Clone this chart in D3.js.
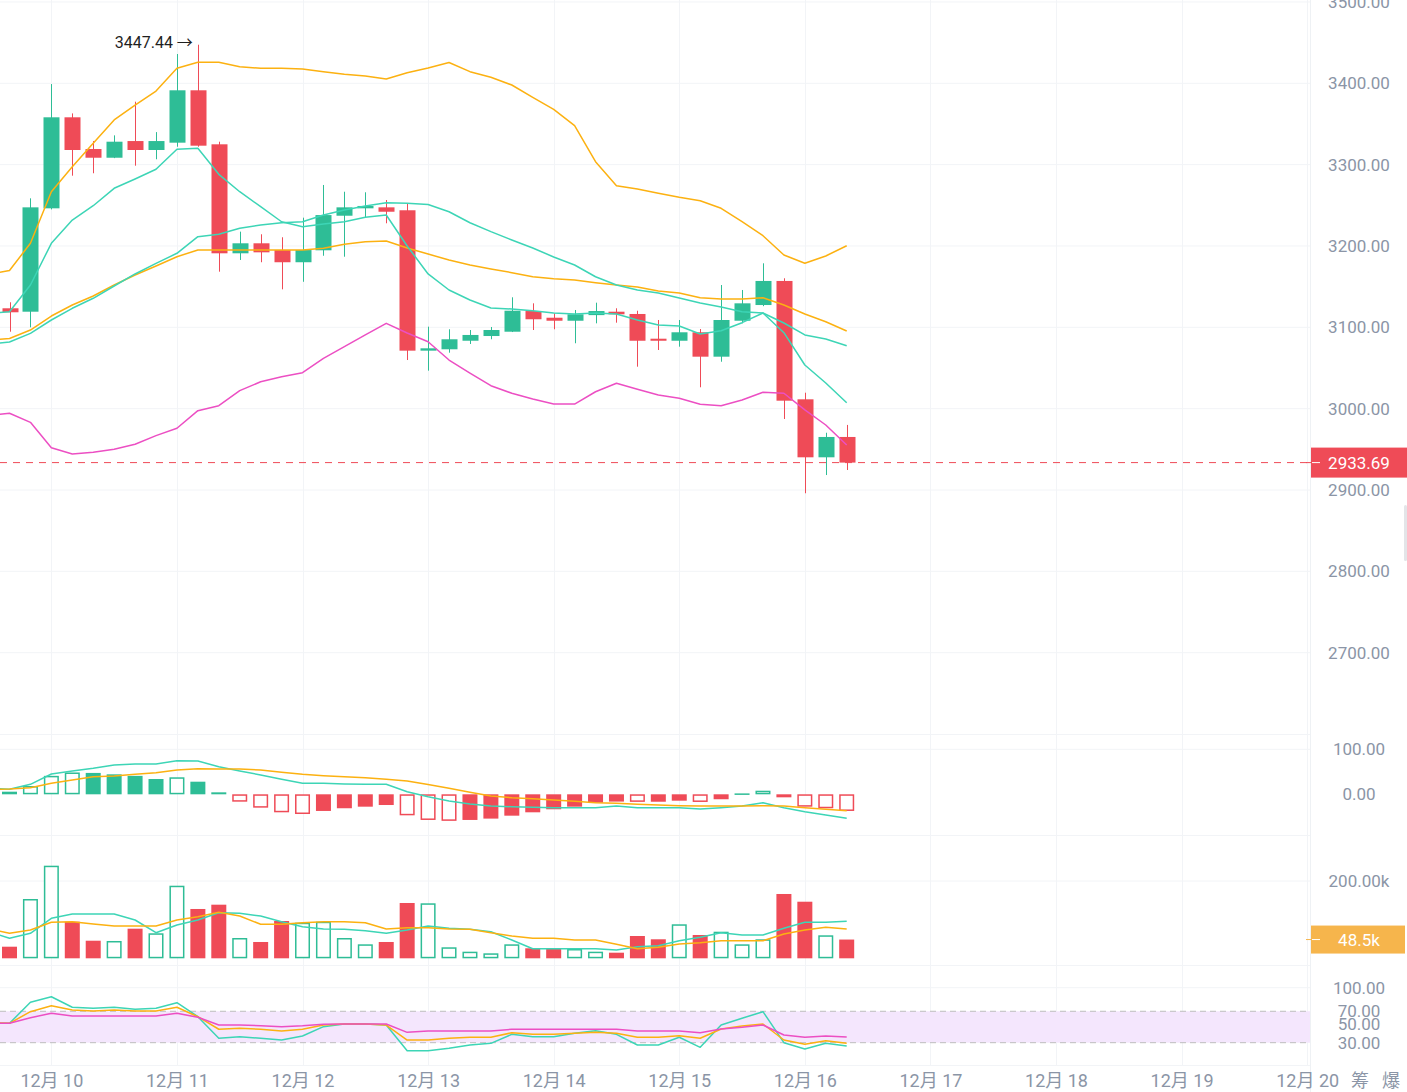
<!DOCTYPE html>
<html>
<head>
<meta charset="utf-8">
<script src="https://cdn.jsdelivr.net/npm/d3@7"></script>
<style>
  body { margin: 0; background: #fff; }
</style>
</head>
<body>
<div id="chart"></div>
<script>
// 4h candles, first visible one opens 12月9 16:00
var startTime = new Date(2024, 11, 9, 16);

var openPrice  = [3123.4, 3119.2, 3246.3, 3358.2, 3319.2, 3308.5, 3329, 3318, 3327, 3391.4, 3325, 3191, 3203.3, 3195, 3180, 3194.7, 3237.2, 3246.3, 3247.5, 3243.9, 3071.3, 3073, 3083.5, 3089.3, 3094.6, 3120, 3111.8, 3108.1, 3115, 3119.2, 3116.4, 3086, 3083.5, 3093.9, 3063.9, 3108.1, 3127.4, 3157, 3011.5, 2940.2, 2965.2];
var highPrice  = [3130.8, 3258.6, 3399.1, 3363, 3329, 3336, 3377.4, 3340, 3436, 3447.44, 3328.2, 3217.6, 3214.4, 3210.7, 3234.8, 3275, 3266.7, 3266, 3256.5, 3252.5, 3100.8, 3097.6, 3096.7, 3100.4, 3136.9, 3129.5, 3117.2, 3121.3, 3130.3, 3123.4, 3120.4, 3109, 3109, 3097.9, 3152, 3145.9, 3178.7, 3160.3, 3019.6, 2970.4, 2980];
var lowPrice   = [3094.6, 3100, 3245, 3286.4, 3289.4, 3308, 3298.7, 3306.6, 3322, 3322, 3168.4, 3182.8, 3180, 3146.7, 3156, 3188, 3186.8, 3235.3, 3227.9, 3059.8, 3046.7, 3068.8, 3079.5, 3085.3, 3094.2, 3096.7, 3097.6, 3080.4, 3104.9, 3105.7, 3051.6, 3072.1, 3076.2, 3026.3, 3057.7, 3104.9, 3126, 2987.3, 2896, 2918.4, 2924.6];
var closePrice = [3118.5, 3247.5, 3358.2, 3318, 3308.5, 3328.2, 3318, 3329, 3391.4, 3323.3, 3191, 3203.3, 3192.2, 3180, 3195, 3238, 3247.5, 3249.2, 3242.1, 3071.3, 3074.2, 3085.3, 3090.6, 3096.7, 3120.4, 3109.9, 3108.1, 3116, 3120, 3116, 3083.5, 3083.5, 3093.9, 3063.9, 3109, 3129.5, 3157, 3009.8, 2940.2, 2965.2, 2933.69];
var volumeK    = [30, 153.4, 239.6, 94.7, 45.5, 44.8, 76.6, 64.7, 187.8, 127.6, 138.7, 52.5, 42.2, 96.5, 92.1, 94.7, 52.5, 36.2, 42.2, 143.1, 142.3, 28.5, 17.1, 12.9, 36.2, 25.9, 25.9, 24.1, 17.1, 14.5, 57.7, 49.2, 88, 60.3, 68.8, 36.2, 49.2, 166.4, 146.4, 59.5, 48.5];
var macdHist   = [5.8, 18.4, 41, 48.5, 47.5, 44.4, 41, 34, 37.8, 28, 4.4, -16.4, -29.7, -40, -43.8, -37, -31, -27.5, -23.8, -46.7, -57, -59, -57, -54, -47.5, -40, -33.3, -27.5, -18.7, -16.2, -16.8, -16.5, -14.2, -17, -11, 2, 8, -6.7, -27.5, -31, -37];

// indicator lines: the first value belongs to the candle just left of the view
var bollUpper = [3164.9, 3169.9, 3203.3, 3266.7, 3297.5, 3326.2, 3354.9, 3373.3, 3390.5, 3418.4, 3425.8, 3425.8, 3420.4, 3418.4, 3418.4, 3417.6, 3414.3, 3411.1, 3409, 3405.3, 3413, 3418.8, 3425.6, 3414.3, 3407.4, 3397.9, 3382.8, 3368, 3347.9, 3303.6, 3274.1, 3270, 3264.8, 3259.8, 3255.7, 3246.3, 3229.8, 3212.6, 3188.9, 3178.7, 3187.7, 3200.3];
var bollMid   = [3079.5, 3082, 3092.6, 3109, 3123.4, 3135.7, 3150.8, 3165.6, 3178.7, 3191, 3211.4, 3214.4, 3221.7, 3225.8, 3228.6, 3229.8, 3238.1, 3244.2, 3249.2, 3253.2, 3252.5, 3251, 3242.1, 3228.6, 3217.6, 3207.4, 3197.5, 3186.5, 3176.6, 3162.2, 3152, 3145.9, 3142.2, 3136, 3129.9, 3125, 3119.2, 3117.6, 3105.3, 3090.6, 3085.6, 3077.4];
var bollLower = [2991.6, 2994.3, 2983.2, 2952, 2944.3, 2946.4, 2950, 2956.2, 2966.8, 2975.9, 2997.5, 3003.6, 3022.1, 3033.1, 3039.3, 3044.2, 3061.9, 3076.2, 3090.6, 3104.9, 3093, 3082.3, 3059.8, 3043.8, 3028.2, 3018.9, 3011.9, 3005.7, 3005.7, 3020.8, 3031.2, 3023.8, 3016.8, 3012.7, 3005.4, 3003.6, 3010.6, 3020.1, 3018.9, 2998.4, 2979.9, 2955.3];
var maFast    = [3117, 3119.2, 3152, 3203.3, 3231.9, 3249.5, 3270.9, 3282.3, 3294.3, 3318.9, 3320.1, 3288.1, 3266.7, 3248.3, 3229.8, 3223.7, 3227, 3229.8, 3235.3, 3238.1, 3200, 3165.6, 3145.9, 3133.6, 3123.8, 3122.5, 3120.4, 3117.6, 3116.4, 3117.6, 3116.4, 3109, 3102.8, 3101.6, 3091.8, 3095.8, 3105.7, 3117.6, 3093.4, 3053.7, 3031.5, 3007.3];
var maSlow    = [3084.4, 3086.3, 3096.7, 3113.9, 3127.4, 3138.5, 3152, 3164.3, 3175.4, 3186.8, 3195.1, 3195.1, 3195.1, 3195.1, 3195.1, 3195.1, 3197.1, 3202.1, 3205.3, 3206.1, 3197.5, 3190.1, 3182.8, 3176.6, 3171.7, 3167.2, 3162.2, 3159.8, 3158.2, 3154.9, 3152, 3149.6, 3144.6, 3142.2, 3136.4, 3134.8, 3134.8, 3136.4, 3127.4, 3116.4, 3106.9, 3095.5];
var macdDif   = [14.4, 11.1, 22.2, 45.1, 51.8, 57.8, 65.1, 67.3, 67.3, 74.7, 74, 61.3, 51.8, 42.9, 33.3, 24.4, 24.4, 22.9, 22.2, 22.2, 5.8, -5.3, -14.9, -21.6, -26, -27.6, -28.9, -29.8, -29.8, -29.8, -26, -29.8, -29.8, -29.8, -32.7, -29.8, -26, -18.7, -29.8, -38.7, -46, -53.3];
var macdDea   = [11.1, 11.8, 14.7, 24.4, 31.8, 39.1, 40.7, 44.4, 48, 54, 56.9, 56.2, 56.2, 54, 48.9, 44.4, 41.3, 39.1, 36.9, 33.3, 29.6, 21.8, 13.3, 4.4, -3.8, -7.6, -9.8, -12.7, -15.6, -18.7, -20, -22.2, -23.8, -25.3, -26, -26, -26, -25.3, -26, -29.8, -33.3, -36.4];
var volMa5    = [69.3, 51.7, 64.7, 103.5, 114.6, 114.6, 114.6, 99.1, 66.2, 86.2, 99.1, 118, 116.4, 109.4, 94.7, 81.8, 75.8, 75, 71.4, 64.7, 73.2, 83.6, 77.6, 75, 68.8, 47.3, 24.8, 24.8, 24.8, 24.8, 21.5, 30, 32.6, 45.5, 54.3, 66.2, 60.3, 60.3, 77.6, 93.1, 93.1, 95.7];
var volMa10   = [75.8, 64.7, 73.2, 93.1, 94.7, 88.7, 83.6, 83.6, 83.6, 99.1, 107.6, 119, 109.4, 88, 88, 92.1, 94.7, 94.7, 92.1, 75.8, 79.2, 79.2, 75.8, 75, 66.2, 57.7, 51.7, 51.7, 47.3, 47.3, 36.2, 24.8, 28.5, 37, 40.4, 45.5, 45.5, 45.5, 62.9, 73.2, 80.2, 75.8];
var rsi6      = [54.7, 54.7, 81.4, 88.5, 75.1, 73.8, 75.1, 72.5, 73.8, 80.9, 63.1, 35.6, 37.6, 35.6, 33.4, 38.5, 50.4, 53.8, 53.8, 52.5, 19.8, 19.8, 22.9, 27.1, 29.2, 40.7, 37.6, 37.6, 42, 45.3, 40.7, 27.1, 27.1, 36.9, 24.1, 52.5, 61.1, 69.5, 30, 22, 29.2, 25.8];
var rsi12     = [55.5, 54.7, 69.5, 77.1, 71.6, 70.3, 71.6, 70.3, 70.3, 75.1, 63.1, 47.1, 48.3, 47.1, 44.9, 47.1, 52.5, 53.8, 53.8, 52.5, 33.4, 33.4, 35.6, 36.9, 36.9, 42.7, 40.7, 40.7, 42, 43.2, 42, 36.9, 36.9, 38.9, 35.6, 47.4, 51.3, 53.8, 33.4, 28, 32.5, 29.2];
var rsi24     = [54.7, 54.7, 61.8, 67.4, 64, 64, 64, 64, 64, 67.4, 62.3, 52.5, 52.5, 51.6, 50.4, 51.6, 53.4, 53.8, 53.8, 53.8, 43.2, 44.9, 44.9, 44.9, 44.9, 47.1, 47.1, 47.1, 47.1, 47.1, 47.1, 44.9, 44.9, 44.9, 42.7, 47.4, 49.6, 52.5, 39.8, 36.9, 38.5, 37.3];

// tick labels
var priceTicks = [3500, 3400, 3300, 3200, 3100, 3000, 2900, 2800, 2700];
var macdTicks = [100, 0];
var volTicks = [200];
var rsiTicks = [100, 70, 50, 30];
var rsiBand = [30, 70];
var lastPrice = 2933.69;
var lastVolume = 48.5;
var highLabel = "3447.44";
var cornerLabels = ["筹", "爆"];

var width = 1407, height = 1092, plotRight = 1310;
var upColor = "#2ebd96", downColor = "#ef4b57";
var tealColor = "#3dd5b6", orangeColor = "#fcb111", pinkColor = "#ec4fc3";
var gridColor = "#f2f4f7", labelColor = "#8b95a6";
var fontFamily = "Roboto, 'Noto Sans CJK SC', sans-serif";

var svg = d3.select("#chart").append("svg")
    .attr("width", width)
    .attr("height", height)
    .style("display", "block");

svg.append("rect").attr("width", width).attr("height", height).attr("fill", "#fff");

// scales
var candleTime = function(i) { return d3.timeHour.offset(startTime, 4 * i); };
var lineTime = function(i) { return d3.timeHour.offset(startTime, 4 * (i - 1)); };

var x = d3.scaleTime()
    .domain([startTime, candleTime(40)])
    .range([9.5, 846.7]);
var yPrice = d3.scaleLinear().domain([2900, 3400]).range([490, 83.3]);
var yMacd = d3.scaleLinear().domain([0, 100]).range([794.3, 749.3]);
var yVol = d3.scaleLinear().domain([0, 200]).range([958.3, 881]);
var yRsi = d3.scaleLinear().domain([30, 100]).range([1042.7, 987.7]);

var dayTicks = d3.timeDay.range(new Date(2024, 11, 10), new Date(2024, 11, 21));

// grid lines
var grid = svg.append("g").attr("stroke", gridColor).attr("stroke-width", 1);
grid.selectAll(".vgrid").data(dayTicks).join("line")
    .attr("x1", function(d) { return Math.round(x(d)) + 0.5; })
    .attr("x2", function(d) { return Math.round(x(d)) + 0.5; })
    .attr("y1", 0).attr("y2", 1065);

var hLines = priceTicks.map(yPrice)
    .concat([734.5, yMacd(100), 835.5, yVol(200), 965.5, yRsi(100), 1065.5]);
grid.selectAll(".hgrid").data(hLines).join("line")
    .attr("x1", 0).attr("x2", plotRight)
    .attr("y1", function(d) { return d; })
    .attr("y2", function(d) { return d; });

svg.append("line")
    .attr("x1", plotRight + 0.5).attr("x2", plotRight + 0.5)
    .attr("y1", 0).attr("y2", height)
    .attr("stroke", "#eef1f4");

// RSI band
svg.append("rect")
    .attr("x", 0).attr("width", plotRight)
    .attr("y", yRsi(rsiBand[1]))
    .attr("height", yRsi(rsiBand[0]) - yRsi(rsiBand[1]))
    .attr("fill", "#f4e6fd");
svg.selectAll(".rsiBand").data(rsiBand).join("line")
    .attr("x1", 0).attr("x2", plotRight)
    .attr("y1", function(d) { return yRsi(d); })
    .attr("y2", function(d) { return yRsi(d); })
    .attr("stroke", "#bdbdbd")
    .attr("stroke-dasharray", "6,4");

// candles
var candles = svg.append("g");
openPrice.forEach(function(o, i) {
    var c = closePrice[i];
    var col = c >= o ? upColor : downColor;
    var cx = Math.round(x(candleTime(i))) + 0.5;
    candles.append("line")
        .attr("x1", cx).attr("x2", cx)
        .attr("y1", yPrice(highPrice[i]))
        .attr("y2", yPrice(lowPrice[i]))
        .attr("stroke", col);
    var top = yPrice(Math.max(o, c));
    var h = Math.max(1, yPrice(Math.min(o, c)) - top);
    candles.append("rect")
        .attr("x", cx - 8).attr("width", 16)
        .attr("y", top).attr("height", h)
        .attr("fill", col);
});

function drawLine(values, yScale, color) {
    var line = d3.line()
        .x(function(d, i) { return x(lineTime(i)); })
        .y(function(d) { return yScale(d); });
    svg.append("path")
        .datum(values)
        .attr("d", line)
        .attr("fill", "none")
        .attr("stroke", color)
        .attr("stroke-width", 1.5)
        .attr("stroke-linejoin", "round");
}

drawLine(bollUpper, yPrice, orangeColor);
drawLine(maSlow, yPrice, orangeColor);
drawLine(bollMid, yPrice, tealColor);
drawLine(maFast, yPrice, tealColor);
drawLine(bollLower, yPrice, pinkColor);

// high marker
svg.append("text")
    .attr("x", x(candleTime(9)) - 5)
    .attr("y", yPrice(highPrice[9]) - 2)
    .attr("dy", "0.35em")
    .attr("text-anchor", "end")
    .attr("font-family", fontFamily)
    .attr("font-size", 16)
    .attr("fill", "#1f1f1f")
    .text(highLabel + " \u2192");

// last price line
svg.append("line")
    .attr("x1", 0).attr("x2", plotRight)
    .attr("y1", yPrice(lastPrice)).attr("y2", yPrice(lastPrice))
    .attr("stroke", downColor)
    .attr("stroke-dasharray", "7,6");

// MACD histogram + lines
var macdBars = svg.append("g");
macdHist.forEach(function(v, i) {
    var col = v >= 0 ? upColor : downColor;
    var hollow = i > 0 && Math.abs(v) > Math.abs(macdHist[i - 1]);
    var cx = x(candleTime(i));
    var y0 = yMacd(0), y1 = yMacd(v);
    var top = Math.min(y0, y1), h = Math.max(1.5, Math.abs(y1 - y0));
    if (hollow) {
        macdBars.append("rect")
            .attr("x", cx - 6.75).attr("width", 13.5)
            .attr("y", top + 0.75).attr("height", Math.max(0.5, h - 1.5))
            .attr("fill", "#fff").attr("stroke", col).attr("stroke-width", 1.5);
    } else {
        macdBars.append("rect")
            .attr("x", cx - 7.5).attr("width", 15)
            .attr("y", top).attr("height", h)
            .attr("fill", col);
    }
});
drawLine(macdDif, yMacd, tealColor);
drawLine(macdDea, yMacd, orangeColor);

// volume
var volBars = svg.append("g");
volumeK.forEach(function(v, i) {
    var up = closePrice[i] >= openPrice[i];
    var cx = x(candleTime(i));
    var top = yVol(v), h = yVol(0) - top;
    if (up) {
        volBars.append("rect")
            .attr("x", cx - 6.75).attr("width", 13.5)
            .attr("y", top + 0.75).attr("height", h - 1.5)
            .attr("fill", "#fff").attr("stroke", upColor).attr("stroke-width", 1.5);
    } else {
        volBars.append("rect")
            .attr("x", cx - 7.5).attr("width", 15)
            .attr("y", top).attr("height", h)
            .attr("fill", downColor);
    }
});
drawLine(volMa5, yVol, tealColor);
drawLine(volMa10, yVol, orangeColor);

// RSI
drawLine(rsi6, yRsi, tealColor);
drawLine(rsi12, yRsi, orangeColor);
drawLine(rsi24, yRsi, pinkColor);

// right axes
function drawAxis(scale, ticks, fmt) {
    var g = svg.append("g")
        .attr("transform", "translate(1359,0)")
        .call(d3.axisRight(scale).tickValues(ticks).tickSize(0).tickPadding(0).tickFormat(fmt));
    g.select(".domain").remove();
    g.attr("font-family", fontFamily).attr("font-size", 17);
    g.selectAll("text")
        .attr("x", 0)
        .attr("text-anchor", "middle")
        .attr("fill", labelColor);
    return g;
}
drawAxis(yPrice, priceTicks, d3.format(".2f"));
drawAxis(yMacd, macdTicks, d3.format(".2f"));
drawAxis(yVol, volTicks, function(d) { return d3.format(".2f")(d) + "k"; });
var rsiAxis = drawAxis(yRsi, rsiTicks, d3.format(".2f"));
rsiAxis.selectAll(".tick").filter(function(d) { return d === 50; })
    .attr("transform", "translate(0," + (yRsi(50) - 2) + ")");

// value tags
function drawTag(yPos, h, w, color, label) {
    svg.append("rect")
        .attr("x", plotRight + 1).attr("y", yPos - h / 2)
        .attr("width", w).attr("height", h)
        .attr("fill", color);
    svg.append("line")
        .attr("x1", plotRight - 4).attr("x2", plotRight + 1)
        .attr("y1", yPos).attr("y2", yPos)
        .attr("stroke", color);
    svg.append("line")
        .attr("x1", plotRight + 2).attr("x2", plotRight + 10)
        .attr("y1", yPos).attr("y2", yPos)
        .attr("stroke", "#fff");
    svg.append("text")
        .attr("x", 1359).attr("y", yPos)
        .attr("dy", "0.35em")
        .attr("text-anchor", "middle")
        .attr("font-family", fontFamily)
        .attr("font-size", 17)
        .attr("fill", "#fff")
        .text(label);
}
drawTag(yPrice(lastPrice), 30, 96, downColor, d3.format(".2f")(lastPrice));
drawTag(yVol(lastVolume), 28, 94, "#f6b54c", lastVolume + "k");

// time axis
var xAxis = svg.append("g")
    .attr("transform", "translate(0,1081)")
    .call(d3.axisBottom(x).tickValues(dayTicks).tickSize(0).tickPadding(0)
        .tickFormat(function(d) { return (d.getMonth() + 1) + "月 " + d.getDate(); }));
xAxis.select(".domain").remove();
xAxis.attr("font-family", fontFamily).attr("font-size", 18);
xAxis.selectAll("text").attr("y", 0).attr("dy", "0.35em").attr("fill", labelColor);

svg.selectAll(".corner").data(cornerLabels).join("text")
    .attr("x", function(d, i) { return 1360 + i * 31; })
    .attr("y", 1081)
    .attr("dy", "0.35em")
    .attr("text-anchor", "middle")
    .attr("font-family", fontFamily)
    .attr("font-size", 18)
    .attr("fill", labelColor)
    .text(function(d) { return d; });

// scroll handle on the right edge
svg.append("rect")
    .attr("x", 1404).attr("y", 505)
    .attr("width", 3).attr("height", 56)
    .attr("rx", 1.5)
    .attr("fill", "#e3e5e8");
</script>
</body>
</html>
